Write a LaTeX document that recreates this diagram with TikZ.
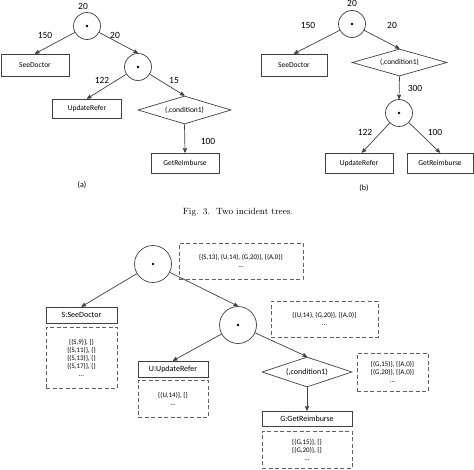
\documentclass[tikz,border=0pt]{standalone}
\usepackage{fontspec}
\newfontfamily\diagfont{Carlito}
\usetikzlibrary{arrows, positioning, shapes}
\definecolor{linegray}{HTML}{404040}
\definecolor{dashgray}{HTML}{606060}
\tikzset{
        ->, % edges are directed
        >=stealth', % small filled heads
        every node/.style={font=\diagfont},
        every edge/.style={draw=linegray, line width=0.7pt}, % connectors
        task/.style={draw=linegray, line width=0.7pt, inner sep=0pt, minimum height=20pt, font=\diagfont\fontsize{7.5}{9}\selectfont}, % activity boxes
        andop/.style={circle, draw=linegray, line width=0.7pt, inner sep=0pt, minimum size=27pt,
          path picture={\fill (path picture bounding box.center) circle (1.3pt);}}, % operator circles
        cond/.style={diamond, draw=linegray, line width=0.7pt, inner sep=0pt, aspect=3.3, minimum width=93pt, minimum height=28pt, font=\diagfont\fontsize{7.5}{9}\selectfont},
        weight/.style={font=\diagfont\fontsize{9.5}{11}\selectfont, inner sep=0pt}, % numbers on the edges
        data/.style={draw=dashgray, dash pattern=on 4pt off 2.5pt, line width=0.8pt, inner sep=0pt, align=center, font=\diagfont\fontsize{7}{8}\selectfont},
    }
\begin{document}
\begin{tikzpicture}[x=1pt, y=-1pt]
    \useasboundingbox (0,0) rectangle (474,469);
    % tree (a)
    \node[andop] (a1) at (87,26) {};
    \node[task, minimum width=68pt, minimum height=22pt] (asee) at (35,65) {SeeDoctor};
    \node[andop] (a2) at (138,67) {};
    \node[task, minimum width=69pt, minimum height=19pt] (aupd) at (87,108.5) {UpdateRefer};
    \node[cond] (acond) at (184.5,110) {(,condition1)};
    \node[task, minimum width=68pt] (aget) at (185,163) {GetReimburse};
    \node[weight] (aw0) at (83,6) {20};
    \node[weight] (aw1) at (45,35) {150};
    \node[weight] (aw2) at (115,35) {20};
    \node[weight] (aw3) at (102,80) {122};
    \node[weight] (aw4) at (174,80) {15};
    \node[weight] (aw5) at (208,141) {100};
    \node[font=\diagfont\fontsize{8}{10}\selectfont] (alab) at (82,185) {(a)};
    \path
      (a1) edge (asee.north)
      (a1) edge (a2.north)
      (a2) edge (aupd.north)
      (a2) edge (acond.north)
      (acond.south) edge (aget.north);
    % tree (b)
    \node[andop] (b1) at (352,24) {};
    \node[task, minimum width=66pt, minimum height=22pt] (bsee) at (294,65) {SeeDoctor};
    \node[cond, minimum width=95pt, minimum height=27pt] (bcond) at (399.5,62.5) {(,condition1)};
    \node[andop] (b2) at (399,113) {};
    \node[task, minimum width=68pt] (bupd) at (359,163) {UpdateRefer};
    \node[task, minimum width=66pt] (bget) at (440,163) {GetReimburse};
    \node[weight] (bw0) at (352,3) {20};
    \node[weight] (bw1) at (308,25) {150};
    \node[weight] (bw2) at (392,25) {20};
    \node[weight] (bw3) at (415,88) {300};
    \node[weight] (bw4) at (365,132) {122};
    \node[weight] (bw5) at (435,132) {100};
    \node[font=\diagfont\fontsize{8}{10}\selectfont] (blab) at (364,188) {(b)};
    \path
      (b1) edge (bsee.north)
      (b1) edge (bcond.north)
      (bcond.south) edge (b2.north)
      (b2) edge ([xshift=3pt]bupd.north)
      (b2) edge (bget.north);
    \node[font=\fontsize{9}{11}\selectfont] (caption) at (238,212) {Fig. 3.\ \ Two incident trees.};
    % tree with data
    \node[andop, minimum size=37pt] (c1) at (153,264) {};
    \node[andop, minimum size=37pt] (c2) at (238,325) {};
    \node[task, minimum width=71pt, minimum height=16pt, font=\diagfont\fontsize{8}{10}\selectfont] (csee) at (81.5,315) {S:SeeDoctor};
    \node[task, minimum width=70pt, minimum height=16pt, font=\diagfont\fontsize{8}{10}\selectfont] (cupd) at (173,369) {U:UpdateRefer};
    \node[cond, minimum width=90pt, minimum height=30pt, font=\diagfont\fontsize{8}{10}\selectfont] (ccond) at (307,372) {(,condition1)};
    \node[task, minimum width=90pt, minimum height=15pt, font=\diagfont\fontsize{8}{10}\selectfont] (cget) at (307,418.5) {G:GetReimburse};
    \node[data, minimum width=124pt, minimum height=36pt] (d1) at (241,261) {\{(S,13), (U,14), (G,20)\}, \{(A,0)\}\\...};
    \node[data, minimum width=107pt, minimum height=36pt] (d2) at (324.5,319) {\{(U,14), (G,20)\}, \{(A,0)\}\\...};
    \node[data, minimum width=71pt, minimum height=38pt] (d3) at (392.5,372) {\{(G,15)\}, \{(A,0)\}\\\{(G,20)\}, \{(A,0)\}\\...};
    \node[data, minimum width=71pt, minimum height=61pt] (dsee) at (81.5,357.5) {\{(S,9)\}, \{\}\\\{(S,11)\}, \{\}\\\{(S,13)\}, \{\}\\\{(S,17)\}, \{\}\\...};
    \node[data, minimum width=70pt, minimum height=37pt] (dupd) at (173,398.5) {\{(U,14)\}, \{\}\\...};
    \node[data, minimum width=90pt, minimum height=37pt] (dget) at (307,449.5) {\{(G,15)\}, \{\}\\\{(G,20)\}, \{\}\\...};
    \path
      (c1) edge (csee.north)
      (c1) edge (c2.north)
      (c2) edge (cupd.north)
      (c2) edge (ccond.north)
      (ccond.south) edge (cget.north);
\end{tikzpicture}
\end{document}
